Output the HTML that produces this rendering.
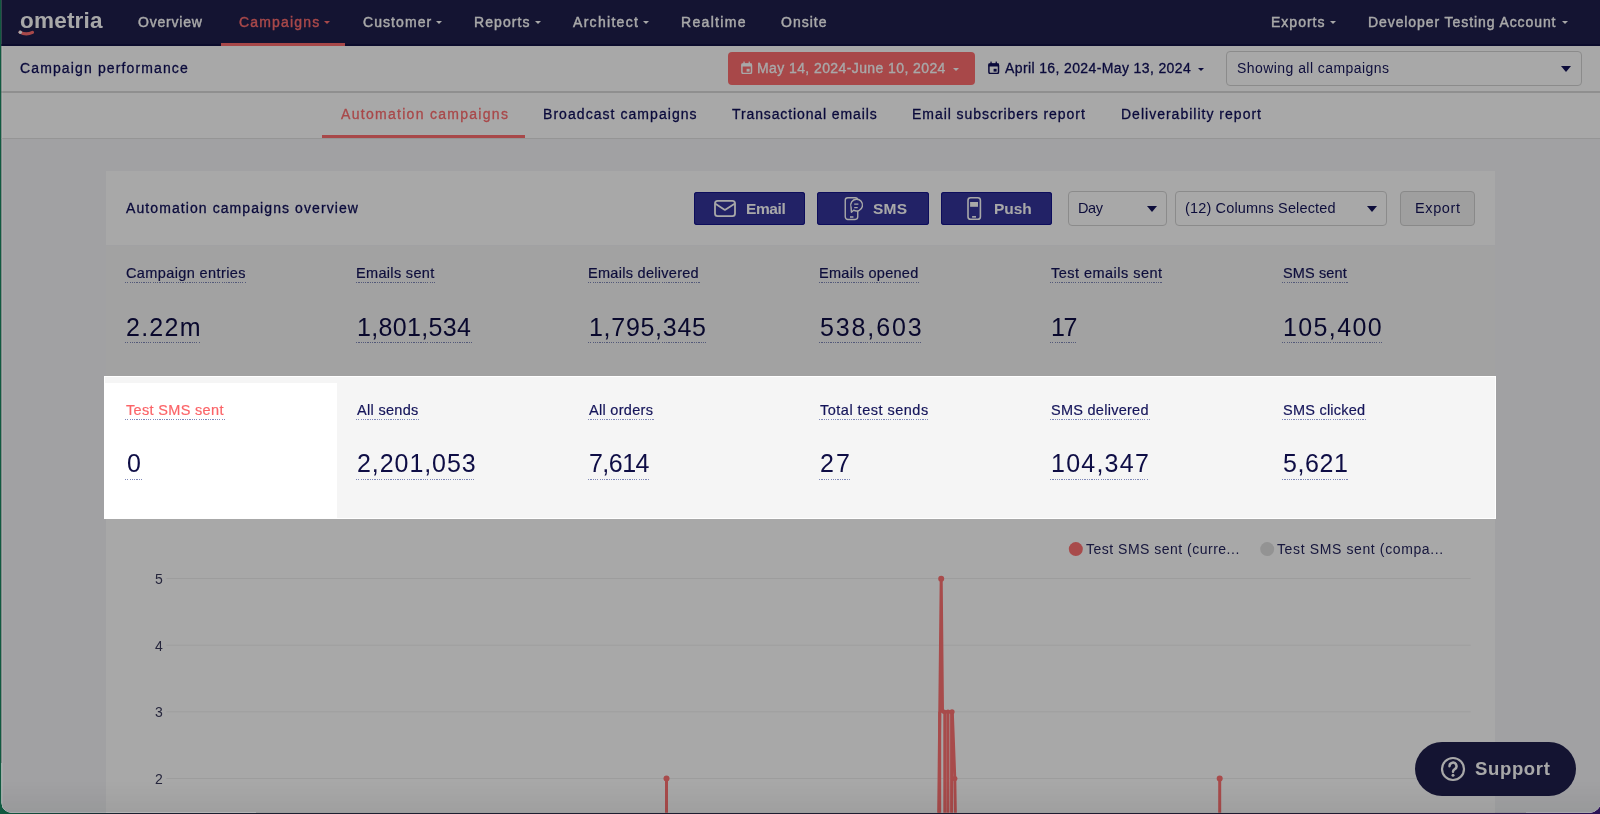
<!DOCTYPE html>
<html><head><meta charset="utf-8"><title>Campaign performance</title>
<style>
html,body{margin:0;padding:0}
body{width:1600px;height:814px;overflow:hidden;position:relative;background:linear-gradient(to right,#115a40 0%,#1b2030 8%,#1e1a30 85%,#2c1256 100%);font-family:"Liberation Sans",sans-serif}
.a{position:absolute}
.t{position:absolute;white-space:nowrap;line-height:1;will-change:transform}
.car{position:absolute;width:0;height:0;border-left:3px solid transparent;border-right:3px solid transparent;border-top:3px solid #fff}
.tri{position:absolute;width:0;height:0;border-left:5.5px solid transparent;border-right:5.5px solid transparent;border-top:6px solid #15155a}
.dot{position:absolute;height:1px;background-image:repeating-linear-gradient(to right,#7f88b8 0 1.2px,transparent 1.2px 2.3px)}
#ov{position:absolute;left:0;top:0;width:1600px;height:814px;background:rgba(0,0,0,0.34);z-index:50}
#hi{position:absolute;left:104.4px;top:375.7px;width:1389.6px;height:141.1px;background:#f5f5f5;border:1px solid #fff;z-index:60}
#hiw{position:absolute;left:104.4px;top:382.8px;width:233px;height:136px;background:#fff;z-index:60}
.hl{z-index:61}
#win{position:absolute;left:0;top:0;width:1601px;height:814px;clip-path:inset(0px 0px 1.25px 1.5px round 0 0 12px 10px);background:#fff}
</style></head><body>
<div id="win">
<!-- page background -->
<div class="a" style="left:0;top:138px;width:1600px;height:676px;background:#f4f5f8"></div>
<!-- nav bar -->
<div class="a" style="left:0;top:0;width:1600px;height:46px;background:#1f1f4d"></div>
<div class="a" style="left:0;top:44px;width:1600px;height:2px;background:#131345"></div>
<div class="a" style="left:221px;top:43px;width:123.5px;height:3px;background:#ff6e70"></div>
<!-- logo -->
<svg class="a" style="left:17px;top:29px" width="20" height="9" viewBox="0 0 20 9"><path d="M3 3.2 Q9 6.6 15.5 3.4" stroke="#ff6e70" stroke-width="3.2" fill="none" stroke-linecap="round"/><circle cx="3.3" cy="3.3" r="1.7" fill="#fff"/></svg>
<!-- nav carets -->
<div class="car" style="left:323.5px;top:21px;border-top-color:#ff6e70"></div>
<div class="car" style="left:436px;top:21px"></div>
<div class="car" style="left:534.5px;top:21px"></div>
<div class="car" style="left:642.5px;top:21px"></div>
<div class="car" style="left:1329.7px;top:21px"></div>
<div class="car" style="left:1561.5px;top:21px"></div>
<!-- second bar -->
<div class="a" style="left:0;top:46px;width:1600px;height:45px;background:#fff"></div>
<div class="a" style="left:0;top:90.5px;width:1600px;height:2px;background:#d9d9d9"></div>
<div class="a" style="left:727.5px;top:52.2px;width:247px;height:32.4px;background:#ff6e70;border-radius:4px"></div>
<svg class="a" style="left:740px;top:61px" width="13" height="13" viewBox="0 0 13 13"><rect x="1.9" y="2.9" width="9.6" height="9.6" rx="1.4" fill="none" stroke="#fff" stroke-width="1.5"/><rect x="1.5" y="2.5" width="10.4" height="3" fill="#fff"/><rect x="3.4" y="0.6" width="1.3" height="2.6" fill="#fff"/><rect x="8.6" y="0.6" width="1.3" height="2.6" fill="#fff"/><rect x="6.6" y="7.8" width="3" height="2.8" fill="#fff"/></svg>
<div class="car" style="left:953px;top:67.5px"></div>
<svg class="a" style="left:987px;top:61px" width="13" height="13" viewBox="0 0 13 13"><rect x="1.9" y="2.9" width="9.6" height="9.6" rx="1.4" fill="none" stroke="#10105a" stroke-width="1.5"/><rect x="1.5" y="2.5" width="10.4" height="3" fill="#10105a"/><rect x="3.4" y="0.6" width="1.3" height="2.6" fill="#10105a"/><rect x="8.6" y="0.6" width="1.3" height="2.6" fill="#10105a"/><rect x="6.6" y="7.8" width="3" height="2.8" fill="#10105a"/></svg>
<div class="car" style="left:1197.5px;top:67.5px;border-top-color:#10105a"></div>
<div class="a" style="left:1226.3px;top:50.5px;width:353.5px;height:33.8px;border:1px solid #d4d4d4;border-radius:4px;background:#fff"></div>
<div class="tri" style="left:1561px;top:65.5px"></div>
<!-- tabs bar -->
<div class="a" style="left:0;top:92.5px;width:1600px;height:45.5px;background:#fff"></div>
<div class="a" style="left:0;top:138px;width:1600px;height:1px;background:#e3e3e3"></div>
<div class="a" style="left:321.7px;top:135px;width:203.3px;height:3px;background:#ff6e70"></div>
<!-- card -->
<div class="a" style="left:105.5px;top:171.2px;width:1389.5px;height:74.3px;background:#fff"></div>
<div class="a" style="left:105.5px;top:245.5px;width:1389.5px;height:131px;background:#f6f6f6"></div>
<div class="a" style="left:105.5px;top:518px;width:1389.5px;height:300px;background:#fff"></div>
<!-- buttons -->
<div class="a" style="left:693.7px;top:191.6px;width:111.3px;height:33.7px;background:#34349c;border-radius:3px;box-shadow:inset 0 0 0 1px #14148c"></div>
<div class="a" style="left:817px;top:191.6px;width:111.8px;height:33.7px;background:#34349c;border-radius:3px;box-shadow:inset 0 0 0 1px #14148c"></div>
<div class="a" style="left:940.7px;top:191.6px;width:111.8px;height:33.7px;background:#34349c;border-radius:3px;box-shadow:inset 0 0 0 1px #14148c"></div>
<svg class="a" style="left:708px;top:195px" width="34" height="27" viewBox="0 0 34 27"><rect x="7" y="5.9" width="20" height="15.2" rx="2.6" fill="none" stroke="#fff" stroke-width="1.8"/><path d="M7.4 8.7 L16.9 14.9 L26.6 8.7" fill="none" stroke="#fff" stroke-width="1.8" stroke-linejoin="round"/></svg>
<svg class="a" style="left:840px;top:193px" width="30" height="30" viewBox="0 0 30 30"><rect x="5.25" y="4.7" width="12.5" height="21.75" rx="2.6" fill="none" stroke="#fff" stroke-width="1.4"/><path d="M13.65 17.21 A5.9 5.9 0 1 0 11.06 14.12 L11.4 19.2 Z" fill="#34349c" stroke="#fff" stroke-width="1.4" stroke-linejoin="round"/><path d="M14.2 11.2 H18.4 M14.2 14.55 H17.7 M10 24 H13.4" stroke="#fff" stroke-width="1.3"/></svg>
<svg class="a" style="left:962px;top:193px" width="24" height="30" viewBox="0 0 24 30"><rect x="6" y="4.7" width="12.4" height="21.6" rx="2.6" fill="none" stroke="#fff" stroke-width="1.6"/><rect x="8.1" y="9" width="7.9" height="4.8" fill="#fff"/><path d="M10.1 23.85 H14" stroke="#fff" stroke-width="1.6"/></svg>
<div class="a" style="left:1068.2px;top:190.5px;width:97px;height:33.8px;border:1px solid #d4d4d4;border-radius:4px;background:#fff"></div>
<div class="tri" style="left:1146.5px;top:206px"></div>
<div class="a" style="left:1174.5px;top:190.5px;width:210.8px;height:33.8px;border:1px solid #d4d4d4;border-radius:4px;background:#fff"></div>
<div class="tri" style="left:1366.5px;top:206px"></div>
<div class="a" style="left:1400.2px;top:190.5px;width:73.1px;height:33.8px;border:1px solid #d0d0d0;border-radius:4px;background:#f2f2f2"></div>
<!-- dotted underlines row1 -->
<div class="dot" style="left:125.0px;top:282.4px;width:121.4px"></div>
<div class="dot" style="left:356.4px;top:282.4px;width:79.4px"></div>
<div class="dot" style="left:587.8px;top:282.4px;width:111.8px"></div>
<div class="dot" style="left:819.3px;top:282.4px;width:100.4px"></div>
<div class="dot" style="left:1050.2px;top:282.4px;width:113.2px"></div>
<div class="dot" style="left:1282.1px;top:282.4px;width:65.9px"></div>
<div class="dot" style="left:125.0px;top:342.2px;width:75.6px"></div>
<div class="dot" style="left:356.4px;top:342.2px;width:115.8px"></div>
<div class="dot" style="left:587.8px;top:342.2px;width:117.9px"></div>
<div class="dot" style="left:819.3px;top:342.2px;width:102.6px"></div>
<div class="dot" style="left:1050.2px;top:342.2px;width:27.5px"></div>
<div class="dot" style="left:1282.1px;top:342.2px;width:99.6px"></div>
<!-- chart -->
<svg class="a" style="left:0;top:0" width="1600" height="814">
<g stroke="#efefef" stroke-width="1"><path d="M166.3 578.5 H1470.7 M166.3 645.2 H1470.7 M166.3 711.8 H1470.7 M166.3 778.5 H1470.7"/></g>
<g stroke="#ff7272" stroke-width="3" fill="none" stroke-linejoin="round">
<path d="M666.5 830 V778.5"/>
<polyline points="938.5,830 941.2,578.8 942.5,711.8 952.3,711.8"/>
<path d="M939.7 830 V711.8 M944.8 830 V711.8 M948 830 V711.8 M951.6 830 V711.8"/>
<polyline points="952.3,711.8 954.8,778.5 955.6,830"/>
<path d="M1219.7 830 V778.5"/>
</g>
<g fill="#ff7272"><circle cx="941.2" cy="578.8" r="3"/><circle cx="952" cy="711.8" r="2.6"/><circle cx="954.8" cy="778.5" r="2.6"/><circle cx="666.5" cy="778.5" r="3"/><circle cx="1219.7" cy="778.5" r="3"/><circle cx="944" cy="711.8" r="2.2"/><circle cx="948" cy="711.8" r="2.2"/></g>
<circle cx="1075.8" cy="549.1" r="7" fill="#ff7272"/>
<circle cx="1267.2" cy="549.1" r="7" fill="#e0e0e0"/>
</svg>
<!-- support -->
<div class="a" style="left:1415px;top:741.5px;width:160.6px;height:54.5px;border-radius:27.3px;background:#1f1f4d"></div>
<svg class="a" style="left:1440px;top:756px" width="26" height="26" viewBox="0 0 26 26"><circle cx="13" cy="13" r="11" fill="none" stroke="#fff" stroke-width="2.2"/><path d="M9.5 10.3 A3.5 3.5 0 1 1 14.5 13.3 C13.4 13.9 13 14.5 13 15.8" fill="none" stroke="#fff" stroke-width="2.5" stroke-linecap="round"/><circle cx="13" cy="19.2" r="1.5" fill="#fff"/></svg>
<span class="t" style="left:138.20px;top:15.15px;font-size:14px;font-weight:400;color:#ffffff;letter-spacing:0.795px;-webkit-text-stroke-width:0.4px;">Overview</span>
<span class="t" style="left:238.80px;top:15.15px;font-size:14px;font-weight:400;color:#ff6e70;letter-spacing:1.173px;-webkit-text-stroke-width:0.4px;">Campaigns</span>
<span class="t" style="left:362.50px;top:15.15px;font-size:14px;font-weight:400;color:#ffffff;letter-spacing:1.068px;-webkit-text-stroke-width:0.4px;">Customer</span>
<span class="t" style="left:474.00px;top:15.15px;font-size:14px;font-weight:400;color:#ffffff;letter-spacing:1.080px;-webkit-text-stroke-width:0.4px;">Reports</span>
<span class="t" style="left:573.00px;top:15.15px;font-size:14px;font-weight:400;color:#ffffff;letter-spacing:1.303px;-webkit-text-stroke-width:0.4px;">Architect</span>
<span class="t" style="left:680.75px;top:15.15px;font-size:14px;font-weight:400;color:#ffffff;letter-spacing:1.328px;-webkit-text-stroke-width:0.4px;">Realtime</span>
<span class="t" style="left:781.25px;top:15.15px;font-size:14px;font-weight:400;color:#ffffff;letter-spacing:1.015px;-webkit-text-stroke-width:0.4px;">Onsite</span>
<span class="t" style="left:1271.30px;top:15.15px;font-size:14px;font-weight:400;color:#ffffff;letter-spacing:1.006px;-webkit-text-stroke-width:0.4px;">Exports</span>
<span class="t" style="left:1367.80px;top:15.15px;font-size:14px;font-weight:400;color:#ffffff;letter-spacing:0.915px;-webkit-text-stroke-width:0.4px;">Developer Testing Account</span>
<span class="t" style="left:19.50px;top:60.85px;font-size:14px;font-weight:400;color:#10105a;letter-spacing:1.131px;-webkit-text-stroke-width:0.3px;">Campaign performance</span>
<span class="t" style="left:756.80px;top:61.15px;font-size:14px;font-weight:400;color:#ffffff;letter-spacing:0.406px;-webkit-text-stroke-width:0.3px;">May 14, 2024-June 10, 2024</span>
<span class="t" style="left:1004.80px;top:61.15px;font-size:14px;font-weight:400;color:#10105a;letter-spacing:0.377px;-webkit-text-stroke-width:0.3px;">April 16, 2024-May 13, 2024</span>
<span class="t" style="left:1237.20px;top:60.95px;font-size:14px;font-weight:400;color:#15155a;letter-spacing:0.443px;">Showing all campaigns</span>
<span class="t" style="left:340.50px;top:107.15px;font-size:14px;font-weight:400;color:#ff6e70;letter-spacing:1.289px;-webkit-text-stroke-width:0.3px;">Automation campaigns</span>
<span class="t" style="left:542.70px;top:107.15px;font-size:14px;font-weight:400;color:#10105a;letter-spacing:1.054px;-webkit-text-stroke-width:0.3px;">Broadcast campaigns</span>
<span class="t" style="left:732.00px;top:107.15px;font-size:14px;font-weight:400;color:#10105a;letter-spacing:0.886px;-webkit-text-stroke-width:0.3px;">Transactional emails</span>
<span class="t" style="left:911.80px;top:107.15px;font-size:14px;font-weight:400;color:#10105a;letter-spacing:0.950px;-webkit-text-stroke-width:0.3px;">Email subscribers report</span>
<span class="t" style="left:1120.50px;top:107.15px;font-size:14px;font-weight:400;color:#10105a;letter-spacing:1.008px;-webkit-text-stroke-width:0.3px;">Deliverability report</span>
<span class="t" style="left:125.90px;top:201.15px;font-size:14px;font-weight:400;color:#10105a;letter-spacing:1.085px;-webkit-text-stroke-width:0.3px;">Automation campaigns overview</span>
<span class="t" style="left:745.90px;top:200.58px;font-size:15.5px;font-weight:700;color:#ffffff;letter-spacing:-0.387px;">Email</span>
<span class="t" style="left:872.50px;top:200.58px;font-size:15.5px;font-weight:700;color:#ffffff;letter-spacing:0.250px;">SMS</span>
<span class="t" style="left:994.00px;top:200.58px;font-size:15.5px;font-weight:700;color:#ffffff;letter-spacing:-0.059px;">Push</span>
<span class="t" style="left:1078.25px;top:200.73px;font-size:14.5px;font-weight:400;color:#15155a;letter-spacing:-0.393px;">Day</span>
<span class="t" style="left:1185.10px;top:200.73px;font-size:14.5px;font-weight:400;color:#15155a;letter-spacing:0.154px;">(12) Columns Selected</span>
<span class="t" style="left:1414.60px;top:200.73px;font-size:14.5px;font-weight:400;color:#15155a;letter-spacing:0.624px;">Export</span>
<span class="t" style="left:126.00px;top:266.33px;font-size:14.5px;font-weight:400;color:#15155a;letter-spacing:0.387px;-webkit-text-stroke-width:0.2px;">Campaign entries</span>
<span class="t" style="left:356.40px;top:266.33px;font-size:14.5px;font-weight:400;color:#15155a;letter-spacing:0.329px;-webkit-text-stroke-width:0.2px;">Emails sent</span>
<span class="t" style="left:587.80px;top:266.33px;font-size:14.5px;font-weight:400;color:#15155a;letter-spacing:0.286px;-webkit-text-stroke-width:0.2px;">Emails delivered</span>
<span class="t" style="left:819.30px;top:266.33px;font-size:14.5px;font-weight:400;color:#15155a;letter-spacing:0.279px;-webkit-text-stroke-width:0.2px;">Emails opened</span>
<span class="t" style="left:1051.20px;top:266.33px;font-size:14.5px;font-weight:400;color:#15155a;letter-spacing:0.471px;-webkit-text-stroke-width:0.2px;">Test emails sent</span>
<span class="t" style="left:1283.10px;top:266.33px;font-size:14.5px;font-weight:400;color:#15155a;letter-spacing:0.125px;-webkit-text-stroke-width:0.2px;">SMS sent</span>
<span class="t" style="left:125.70px;top:315.14px;font-size:25px;font-weight:400;color:#0e0d45;letter-spacing:1.261px;">2.22m</span>
<span class="t" style="left:357.10px;top:315.14px;font-size:25px;font-weight:400;color:#0e0d45;letter-spacing:0.323px;">1,801,534</span>
<span class="t" style="left:588.50px;top:315.14px;font-size:25px;font-weight:400;color:#0e0d45;letter-spacing:0.711px;">1,795,345</span>
<span class="t" style="left:820.00px;top:315.14px;font-size:25px;font-weight:400;color:#0e0d45;letter-spacing:1.873px;">538,603</span>
<span class="t" style="left:1050.90px;top:315.14px;font-size:25px;font-weight:400;color:#0e0d45;letter-spacing:-1.304px;">17</span>
<span class="t" style="left:1282.80px;top:315.14px;font-size:25px;font-weight:400;color:#0e0d45;letter-spacing:1.373px;">105,400</span>
<span class="t" style="left:154.70px;top:571.75px;font-size:14px;font-weight:400;color:#3a3a5c;letter-spacing:0.000px;">5</span>
<span class="t" style="left:154.70px;top:638.55px;font-size:14px;font-weight:400;color:#3a3a5c;letter-spacing:0.000px;">4</span>
<span class="t" style="left:154.70px;top:705.25px;font-size:14px;font-weight:400;color:#3a3a5c;letter-spacing:0.000px;">3</span>
<span class="t" style="left:154.70px;top:771.75px;font-size:14px;font-weight:400;color:#3a3a5c;letter-spacing:0.000px;">2</span>
<span class="t" style="left:1085.60px;top:541.85px;font-size:14px;font-weight:400;color:#25255e;letter-spacing:0.496px;">Test SMS sent (curre...</span>
<span class="t" style="left:1276.90px;top:541.85px;font-size:14px;font-weight:400;color:#25255e;letter-spacing:0.622px;">Test SMS sent (compa...</span>
<span class="t" style="left:20.00px;top:9.65px;font-size:22.5px;font-weight:700;color:#ffffff;letter-spacing:0.206px;">ometria</span>
<span class="t" style="left:1474.75px;top:759.94px;font-size:18.5px;font-weight:700;color:#ffffff;letter-spacing:0.652px;">Support</span>
<!-- bottom fade -->
<div class="a" style="left:0;top:778px;width:1600px;height:36px;background:linear-gradient(to bottom,rgba(0,0,0,0),rgba(0,0,0,0.06));z-index:49"></div>
<div id="ov"></div>
<div id="hi"></div>
<div id="hiw"></div>
<div class="a" style="left:1.5px;top:46px;width:1px;height:768px;background:rgba(255,255,255,0.07);z-index:70"></div>
<div class="a hl" style="left:0;top:0;width:1600px;height:814px;pointer-events:none">
<div class="dot" style="left:125.0px;top:419.1px;width:99.6px"></div>
<div class="dot" style="left:356.4px;top:419.1px;width:63.3px"></div>
<div class="dot" style="left:587.8px;top:419.1px;width:65.9px"></div>
<div class="dot" style="left:819.3px;top:419.1px;width:110.1px"></div>
<div class="dot" style="left:1050.2px;top:419.1px;width:99.6px"></div>
<div class="dot" style="left:1282.1px;top:419.1px;width:84.3px"></div>
<div class="dot" style="left:125.0px;top:479.1px;width:17.2px"></div>
<div class="dot" style="left:356.4px;top:479.1px;width:119.7px"></div>
<div class="dot" style="left:587.8px;top:479.1px;width:62.4px"></div>
<div class="dot" style="left:819.3px;top:479.1px;width:30.9px"></div>
<div class="dot" style="left:1050.2px;top:479.1px;width:98.8px"></div>
<div class="dot" style="left:1282.1px;top:479.1px;width:65.9px"></div>
<span class="t" style="left:126.00px;top:403.23px;font-size:14.5px;font-weight:400;color:#fb6468;letter-spacing:0.329px;-webkit-text-stroke-width:0.2px;">Test SMS sent</span>
<span class="t" style="left:357.40px;top:403.23px;font-size:14.5px;font-weight:400;color:#15155a;letter-spacing:0.314px;-webkit-text-stroke-width:0.2px;">All sends</span>
<span class="t" style="left:588.80px;top:403.23px;font-size:14.5px;font-weight:400;color:#15155a;letter-spacing:0.301px;-webkit-text-stroke-width:0.2px;">All orders</span>
<span class="t" style="left:820.30px;top:403.23px;font-size:14.5px;font-weight:400;color:#15155a;letter-spacing:0.493px;-webkit-text-stroke-width:0.2px;">Total test sends</span>
<span class="t" style="left:1051.20px;top:403.23px;font-size:14.5px;font-weight:400;color:#15155a;letter-spacing:0.264px;-webkit-text-stroke-width:0.2px;">SMS delivered</span>
<span class="t" style="left:1283.10px;top:403.23px;font-size:14.5px;font-weight:400;color:#15155a;letter-spacing:0.239px;-webkit-text-stroke-width:0.2px;">SMS clicked</span>
<span class="t" style="left:126.70px;top:451.24px;font-size:25px;font-weight:400;color:#0e0d45;letter-spacing:0.000px;">0</span>
<span class="t" style="left:357.10px;top:451.24px;font-size:25px;font-weight:400;color:#0e0d45;letter-spacing:0.936px;">2,201,053</span>
<span class="t" style="left:588.50px;top:451.24px;font-size:25px;font-weight:400;color:#0e0d45;letter-spacing:-0.539px;">7,614</span>
<span class="t" style="left:820.00px;top:451.24px;font-size:25px;font-weight:400;color:#0e0d45;letter-spacing:2.096px;">27</span>
<span class="t" style="left:1050.90px;top:451.24px;font-size:25px;font-weight:400;color:#0e0d45;letter-spacing:1.239px;">104,347</span>
<span class="t" style="left:1282.80px;top:451.24px;font-size:25px;font-weight:400;color:#0e0d45;letter-spacing:0.586px;">5,621</span>
</div>
</div>
</body></html>
